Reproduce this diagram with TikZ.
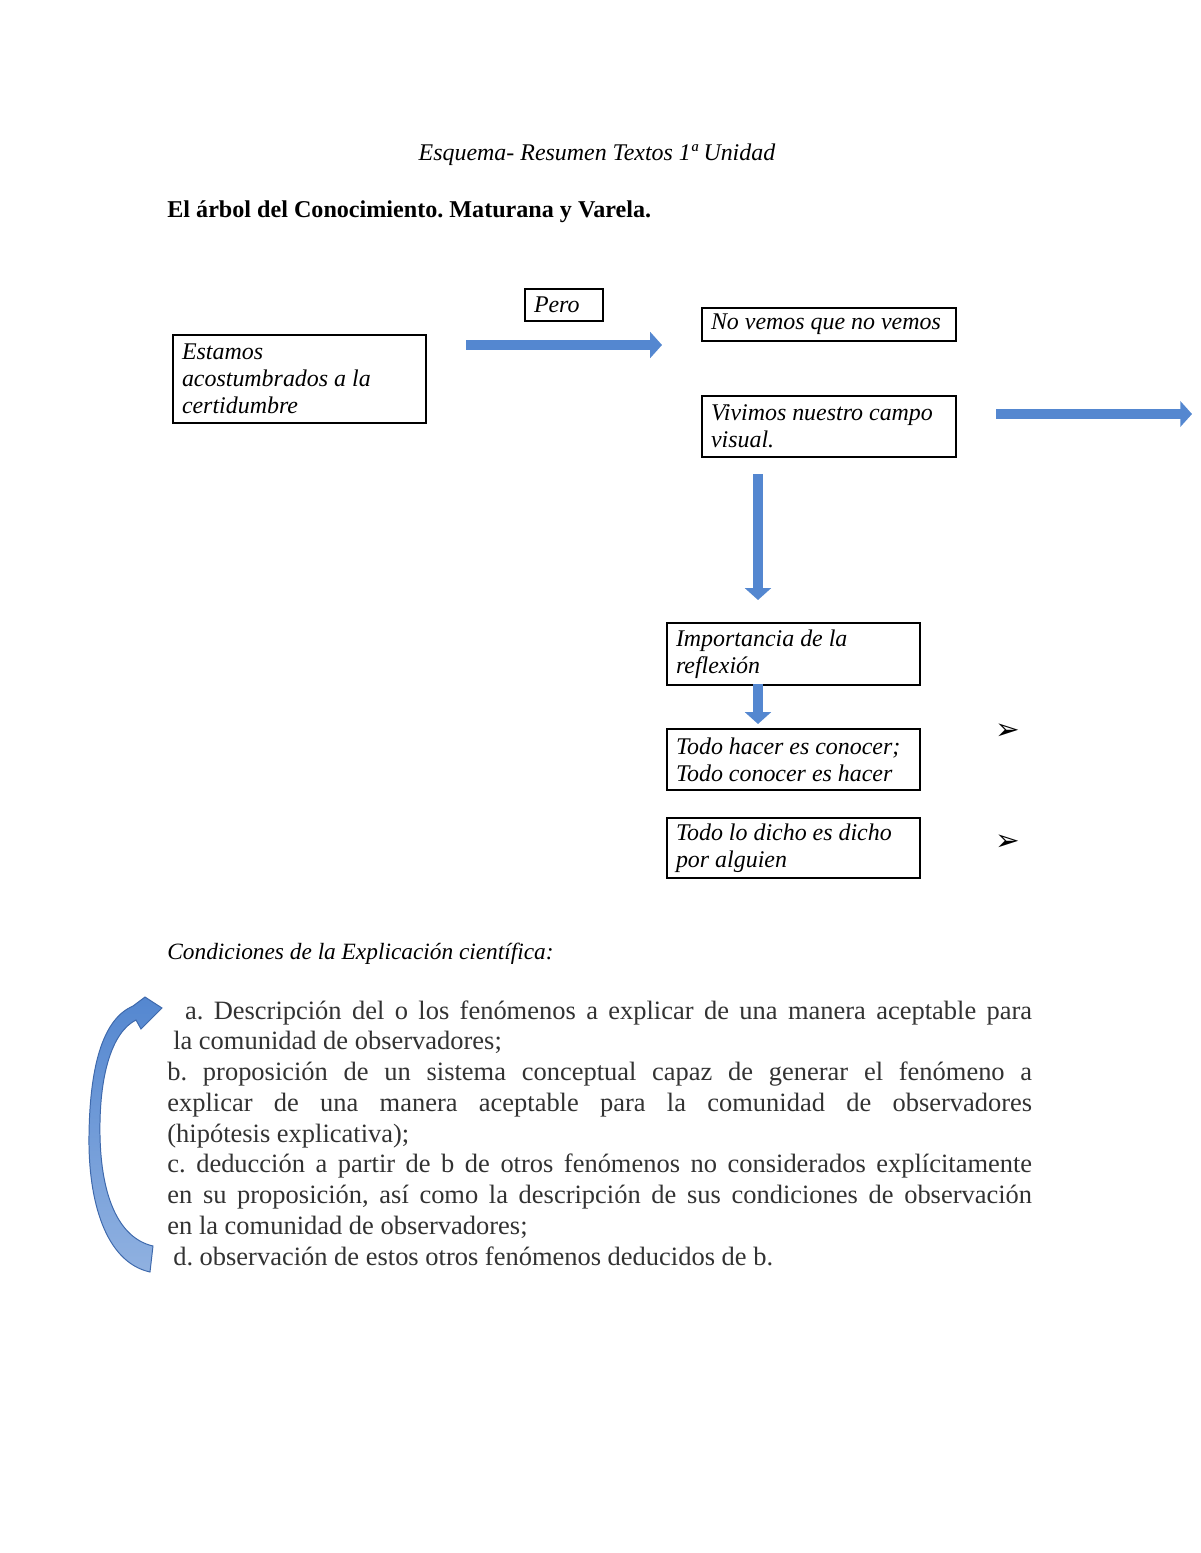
\documentclass[tikz,border=0pt]{standalone}
\usepackage{fontspec}
\setmainfont{Liberation Serif}
\newfontfamily\symfont{DejaVu Sans}
\usepackage{xcolor}
\usepackage{tikz}
\usetikzlibrary{arrows.meta}
\definecolor{arrowblue}{RGB}{84,135,208}
\definecolor{arrowedge}{RGB}{62,105,172}
\definecolor{listgray}{RGB}{50,50,50}
\frenchspacing
\newcommand{\boxfnt}{\fontsize{12.2}{13.8}\selectfont\itshape}
\newcommand{\fullline}[2]{\makebox[#1][s]{\spaceskip=0.25em plus 2em minus 0.05em\relax #2}}

\begin{document}
\begin{tikzpicture}[x=0.51pt,y=-0.51pt,
    box/.style={draw, line width=1pt, anchor=north west, align=flush left,
        inner xsep=4.6pt, inner ysep=0pt, font=\boxfnt},
    blockarrow/.style={line width=5pt, draw=arrowblue,
        -{Triangle[length=6pt,width=13pt]}},
    bullet/.style={font=\symfont\fontsize{15}{15}\selectfont}]
    \useasboundingbox (0,0) rectangle (1200,1553);
    % titulo
    \node (title) [anchor=base, font=\boxfnt] at (597,161) {Esquema- Resumen Textos 1ª Unidad};
    \node (head) [anchor=base west, inner sep=0pt, font=\fontsize{12.3}{14}\selectfont\bfseries] at (167,218) {El árbol del Conocimiento. Maturana y Varela.};
    % cajas
    \node (pero) [box, text width=30.6pt, minimum height=16.3pt] at (524,288) {Pero};
    \node (estamos) [box, text width=119.8pt, minimum height=44.9pt] at (172,334) {Estamos\\ acostumbrados a la\\ certidumbre};
    \node (novemos) [box, text width=120.3pt, minimum height=16.8pt] at (701,307) {No vemos que no vemos};
    \node (vivimos) [box, text width=120.3pt, minimum height=31.1pt] at (701,395) {Vivimos nuestro campo\\ visual.};
    \node (reflexion) [box, text width=119.8pt, minimum height=31.6pt] at (666,622) {Importancia de la\\ reflexión};
    \node (hacer) [box, text width=119.8pt, minimum height=31.1pt] at (666,728) {Todo hacer es conocer;\\ Todo conocer es hacer};
    \node (dicho) [box, text width=119.8pt, minimum height=30.6pt] at (666,817) {Todo lo dicho es dicho\\ por alguien};
    % flechas
    \coordinate (pA) at (466,345);
    \coordinate (pB) at (662,345);
    \coordinate (vA) at (996,414);
    \coordinate (vB) at (1192,414);
    \coordinate (dA) at (758,474);
    \coordinate (dB) at (758,600);
    \coordinate (rA) at (758,684);
    \coordinate (rB) at (758,724);
    \draw [blockarrow] (pA) -- (pB);
    \draw [blockarrow] (vA) -- (vB);
    \draw [blockarrow] (dA) -- (dB);
    \draw [blockarrow] (rA) -- (rB);
    \node (bulA) [bullet] at (1008,732) {➢};
    \node (bulB) [bullet] at (1008,843) {➢};
    % condiciones
    \node (cond) [anchor=base west, inner sep=0pt, font=\fontsize{11.9}{13.8}\selectfont\itshape] at (167,959) {Condiciones de la Explicación científica:};
    \node (list) [anchor=base west, inner sep=0pt, text width=441pt, align=flush left, text=listgray,
        font=\fontsize{13.5}{15.7}\selectfont] at (167,1019) {%
        \hspace*{9pt}\fullline{432pt}{a. Descripción del o los fenómenos a explicar de una manera aceptable para}\\
        \hspace*{3pt}la comunidad de observadores;\\
        \fullline{441pt}{b. proposición de un sistema conceptual capaz de generar el fenómeno a}\\
        \fullline{441pt}{explicar de una manera aceptable para la comunidad de observadores}\\
        (hipótesis explicativa);\\
        \fullline{441pt}{c. deducción a partir de b de otros fenómenos no considerados explícitamente}\\
        \fullline{441pt}{en su proposición, así como la descripción de sus condiciones de observación}\\
        en la comunidad de observadores;\\
        \hspace*{3pt}d. observación de estos otros fenómenos deducidos de b.};
    % flecha curva
    \shadedraw [top color=arrowblue, bottom color=arrowblue!65!white, draw=arrowedge, line width=0.5pt]
        (150,1272) .. controls (105,1262) and (88,1200) .. (89,1135)
        .. controls (90,1060) and (105,1018) .. (133,1006)
        -- (145,997) -- (162,1008) -- (141,1029) -- (136,1020)
        .. controls (112,1032) and (99,1075) .. (100,1135)
        .. controls (101,1195) and (118,1238) .. (153,1246) -- cycle;
\end{tikzpicture}
\end{document}
